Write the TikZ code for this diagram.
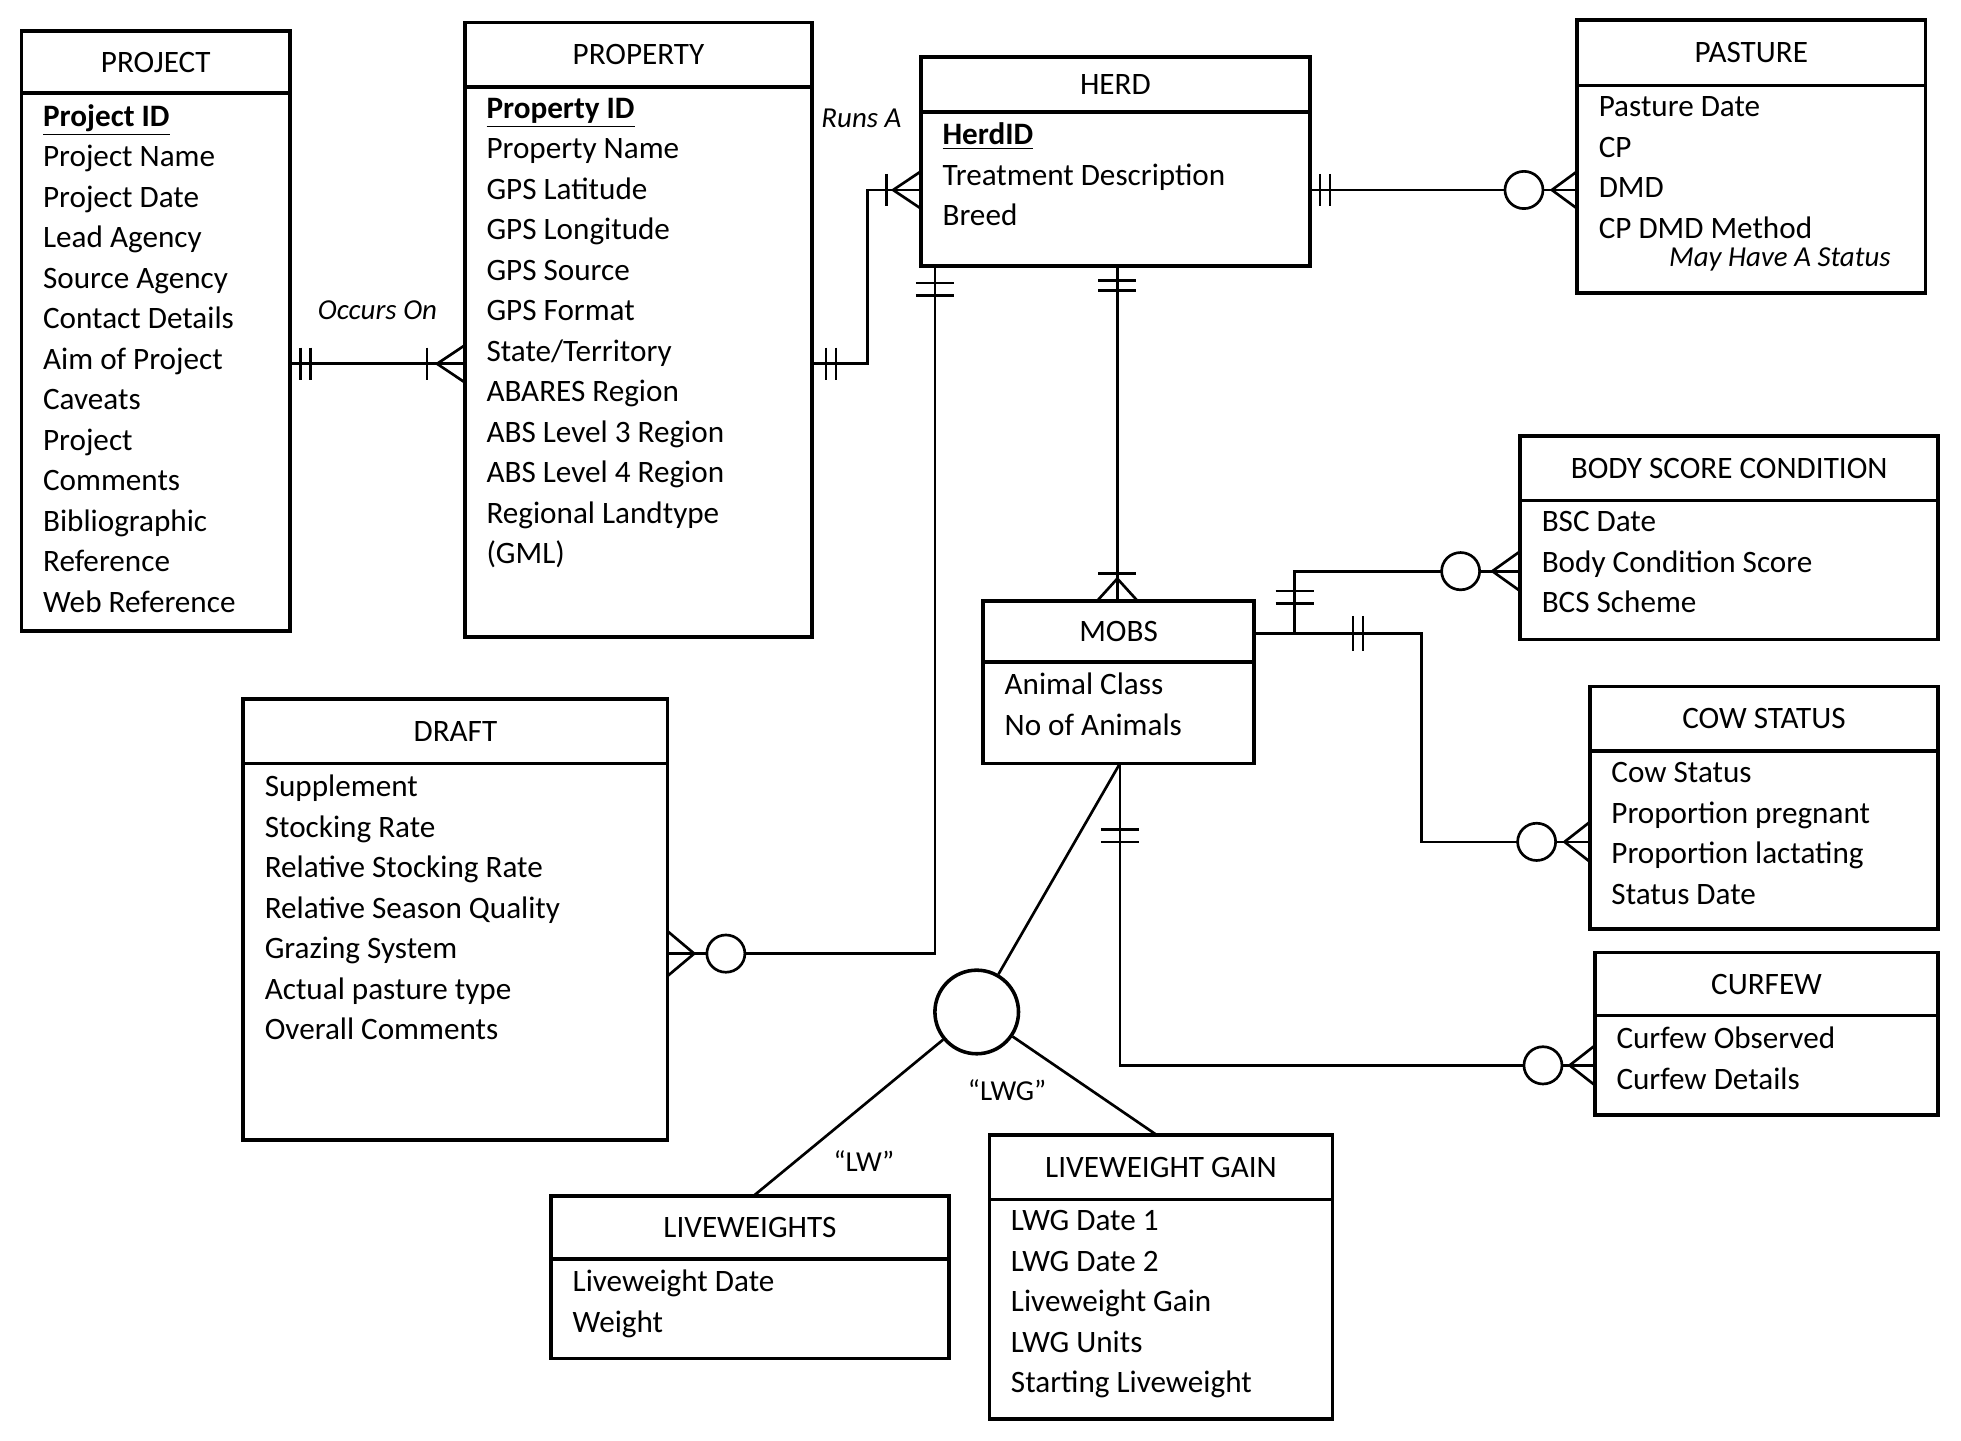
\documentclass[tikz,border=0pt]{standalone}
\usepackage{fontspec}
\setmainfont{Carlito}
\begin{document}
\begin{tikzpicture}[x=0.02cm,y=-0.0196cm,line width=1.2pt,
  box/.style={draw,line width=1.6pt},
  ttl/.style={font=\fontsize{14}{18}\selectfont,inner sep=0},
  body/.style={font=\fontsize{14}{18.2}\selectfont,inner sep=0,align=left,anchor=north west},
  lbl/.style={font=\fontsize{13}{16}\selectfont\itshape,inner sep=0},
  rel/.style={line width=1.2pt}]
\useasboundingbox (0,0) rectangle (1548,1160);
% entity macro: name, x1,y1,x2,y2,headerY,title,body
\newcommand\ent[8]{%
  \draw[box] (#2,#3) rectangle (#4,#5);
  \draw[box] (#2,#6) -- (#4,#6);
  \node[ttl] (#1) at ({(#2+#4)/2},{(#3+#6)/2}) {#7};
  \node[body] (#1b) at ({#2+16},{#6+8}) {#8};
}
\ent{project}{17}{25}{229}{508}{75}{PROJECT}{\underline{\textbf{Project ID}}\\Project Name\\Project Date\\Lead Agency\\Source Agency\\Contact Details\\Aim of Project\\Caveats\\Project\\Comments\\Bibliographic\\Reference\\Web Reference}
\ent{property}{367}{18}{641}{513}{70}{PROPERTY}{\underline{\textbf{Property ID}}\\Property Name\\GPS Latitude\\GPS Longitude\\GPS Source\\GPS Format\\State/Territory\\ABARES Region\\ABS Level 3 Region\\ABS Level 4 Region\\Regional Landtype\\(GML)}
\ent{herd}{727}{46}{1034}{214}{90}{HERD}{\underline{\textbf{HerdID}}\\Treatment Description\\Breed}
\ent{pasture}{1245}{16}{1520}{236}{69}{PASTURE}{Pasture Date\\CP\\DMD\\CP DMD Method}
\ent{bsc}{1200}{351}{1530}{515}{403}{BODY SCORE CONDITION}{BSC Date\\Body Condition Score\\BCS Scheme}
\ent{mobs}{776}{484}{990}{615}{533}{MOBS}{Animal Class\\No of Animals}
\ent{draft}{192}{563}{527}{918}{615}{DRAFT}{Supplement\\Stocking Rate\\Relative Stocking Rate\\Relative Season Quality\\Grazing System\\Actual pasture type\\Overall Comments}
\ent{cow}{1255}{553}{1530}{748}{605}{COW STATUS}{Cow Status\\Proportion pregnant\\Proportion lactating\\Status Date}
\ent{curfew}{1259}{767}{1530}{898}{818}{CURFEW}{Curfew Observed\\Curfew Details}
\ent{lw}{435}{963}{749}{1094}{1014}{LIVEWEIGHTS}{Liveweight Date\\Weight}
\ent{lwg}{781}{914}{1052}{1143}{966}{LIVEWEIGHT GAIN}{LWG Date 1\\LWG Date 2\\Liveweight Gain\\LWG Units\\Starting Liveweight}
% labels
\node[lbl] (l1) at (298,250) {Occurs On};
\node[lbl] (l2) at (680,95) {Runs A};
\node[lbl] (l3) at (1405,209) {May Have A Status};
\node[font=\fontsize{13}{16}\selectfont,inner sep=0] (l4) at (795,878) {“LWG”};
\node[font=\fontsize{13}{16}\selectfont,inner sep=0] (l5) at (682,935) {“LW”};
% Project - Property
\draw[rel] (229,293) -- (367,293);
\draw[rel] (237,280)--(237,306) (245,280)--(245,306) (337,280)--(337,306);
\draw[rel] (345,293)--(367,278) (345,293)--(367,308);
% Property - Herd
\draw[rel] (641,293) -- (685,293) -- (685,153) -- (727,153);
\draw[rel] (652,280)--(652,306) (660,280)--(660,306) (700,140)--(700,166);
\draw[rel] (705,153)--(727,138) (705,153)--(727,168);
% Herd - Pasture
\draw[rel] (1034,153) -- (1188,153) (1218,153) -- (1245,153);
\draw[rel] (1042,140)--(1042,166) (1050,140)--(1050,166);
\draw[rel] (1203,153) circle (15);
\draw[rel] (1225,153)--(1245,138) (1225,153)--(1245,168);
% Herd - Mobs
\draw[rel] (882,214) -- (882,484);
\draw[rel] (867,226)--(897,226) (867,234)--(897,234) (867,462)--(897,462);
\draw[rel] (882,466)--(866,484) (882,466)--(898,484);
% Herd - Draft
\draw[rel] (738,214) -- (738,768) -- (588,768) (558,768) -- (527,768);
\draw[rel] (723,228)--(753,228) (723,238)--(753,238);
\draw[rel] (573,768) circle (15);
\draw[rel] (548,768)--(527,750) (548,768)--(527,786);
% Mobs - BSC
\draw[rel] (990,510) -- (1022,510) -- (1022,460) -- (1138,460) (1168,460) -- (1200,460);
\draw[rel] (1007,476)--(1037,476) (1007,486)--(1037,486);
\draw[rel] (1153,460) circle (15);
\draw[rel] (1178,460)--(1200,444) (1178,460)--(1200,476);
% Mobs - Cow status
\draw[rel] (1022,510) -- (1122,510) -- (1122,678) -- (1198,678) (1228,678) -- (1255,678);
\draw[rel] (1068,496)--(1068,524) (1076,496)--(1076,524);
\draw[rel] (1213,678) circle (15);
\draw[rel] (1235,678)--(1255,662) (1235,678)--(1255,694);
% Mobs - Curfew
\draw[rel] (884,615) -- (884,858) -- (1203,858) (1233,858) -- (1259,858);
\draw[rel] (869,668)--(899,668) (869,678)--(899,678);
\draw[rel] (1218,858) circle (15);
\draw[rel] (1239,858)--(1259,842) (1239,858)--(1259,874);
% subtype circle
\node[draw,circle,line width=1.6pt,minimum size=66*0.02cm,inner sep=0] (sub) at (771,815) {};
\draw[rel] (884,615) -- (sub);
\draw[rel] (sub) -- (595,963);
\draw[rel] (sub) -- (913,914);
\end{tikzpicture}
\end{document}
